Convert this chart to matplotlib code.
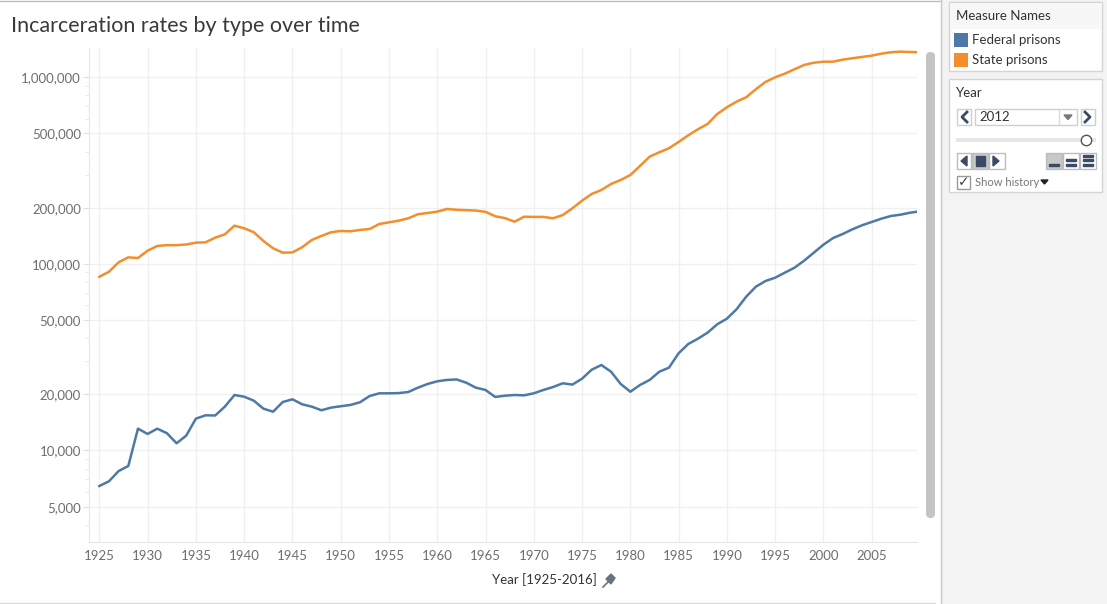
import numpy as np
import matplotlib.pyplot as plt
from matplotlib.patches import Rectangle, FancyBboxPatch, Polygon
from matplotlib.lines import Line2D
from matplotlib.ticker import FixedLocator, FuncFormatter, LogLocator, NullFormatter

plt.rcParams['font.family'] = ['Lato', 'DejaVu Sans']

# Data (prisoners under jurisdiction)
years = list(range(1925, 2011))
federal = [6450, 6840, 7760, 8260, 13090, 12260, 13090, 12380, 10930, 12020,
           14810, 15440, 15400, 17180, 19830, 19420, 18490, 16750, 16140, 18190,
           18810, 17690, 17180, 16430, 16970, 17260, 17540, 18130, 19590, 20250,
           20250, 20300, 20580, 21710, 22720, 23490, 23880, 24030, 23080, 21710,
           21100, 19360, 19660, 19830, 19750, 20250, 21100, 21890, 22910, 22550,
           24260, 27100, 28720, 26440, 22720, 20650, 22440, 23880, 26440, 27780,
           33190, 37220, 39720, 42790, 47460, 50850, 57110, 66710, 75450, 80960,
           84330, 89700, 95400, 104000, 114800, 126700, 137600, 144600, 153200, 161000,
           167700, 174700, 180600, 183600, 188100, 191400]
state = [85300, 90800, 102000, 108400, 107500, 117700, 124700, 126000, 126000, 127000,
         129900, 130500, 138200, 144000, 160200, 155200, 147700, 132600, 121200, 114800,
         115200, 122700, 134300, 141100, 147700, 150100, 149500, 152000, 153800, 163600,
         167000, 170400, 175500, 184500, 187400, 190500, 196900, 195000, 194000, 193000,
         190000, 180000, 176000, 168300, 179000, 178500, 178500, 175500, 182800, 198600,
         218200, 237000, 248900, 268000, 281600, 299500, 334700, 375400, 396300, 416500,
         450200, 488700, 526400, 561900, 635700, 690400, 740000, 781500, 862500, 944000,
         1000000, 1045000, 1104000, 1164000, 1197000, 1212000, 1212000, 1243000, 1265000, 1285000,
         1306000, 1338000, 1362000, 1372000, 1366000, 1362000]

series_names = ['Federal prisons', 'State prisons']
colors = ['#4e79a7', '#f28e2b']
y_ticks = [5000, 10000, 20000, 50000, 100000, 200000, 500000, 1000000]
x_ticks = list(range(1925, 2010, 5))

W, H = 1107, 604
fig = plt.figure(figsize=(W / 100, H / 100), dpi=100)


def fx(px):
    return px / W


def fy(py):
    return 1 - py / H


grid_c = '#f0f0f0'
text_c = '#6e6e6e'

ax = fig.add_axes([fx(89.3), fy(542), fx(916.7) - fx(89.3), fy(48) - fy(542)])
ax.plot(years, federal, color=colors[0], lw=1.8, solid_joinstyle='round')
ax.plot(years, state, color=colors[1], lw=1.8, solid_joinstyle='round')
ax.set_yscale('log')
ax.set_xlim(1923.96, 2009.66)
ax.set_ylim(3233, 1435000)
ax.yaxis.set_major_locator(FixedLocator(y_ticks))
ax.yaxis.set_major_formatter(FuncFormatter(lambda v, p: f'{int(v):,}'))
ax.yaxis.set_minor_locator(LogLocator(base=10, subs=np.arange(2, 10)))
ax.yaxis.set_minor_formatter(NullFormatter())
ax.set_xticks(x_ticks)
ax.grid(True, which='major', color=grid_c, lw=1)
ax.set_axisbelow(True)
for s in ['top', 'right']:
    ax.spines[s].set_visible(False)
for s in ['left', 'bottom']:
    ax.spines[s].set_color('#e6e6e6')
ax.tick_params(axis='both', which='major', colors='#e0e0e0', labelcolor=text_c,
               labelsize=9.5, length=4)
ax.tick_params(axis='y', which='minor', colors='#e6e6e6', length=3)
ax.tick_params(axis='x', which='major', length=0, pad=6)
ax.tick_params(axis='y', pad=2)

# title and axis label
fig.text(fx(11), fy(26), 'Incarceration rates by type over time', fontsize=15.5,
         color='#3a3a3a', va='center', ha='left')
fig.text(fx(597), fy(580), 'Year [1925-2016]', fontsize=9.5, color='#333333',
         va='center', ha='right')
# small pin icon
pin = '#6b7380'
fig.add_artist(Line2D([fx(603), fx(608)], [fy(587), fy(582)], color=pin, lw=1.2))
fig.add_artist(Polygon([[fx(606), fy(579)], [fx(611), fy(584)], [fx(615), fy(578)],
                        [fx(611), fy(574)]], closed=True, color=pin))

# frame lines / scrollbar
fig.add_artist(Line2D([0, fx(941)], [fy(0.5), fy(0.5)], color='#bdbdbd', lw=1))
fig.add_artist(Line2D([0, fx(935)], [fy(603), fy(603)], color='#d9d9d9', lw=1))
fig.add_artist(Rectangle((fx(942), 0), 1 - fx(942), 1, color='#f3f3f3', lw=0))
fig.add_artist(Line2D([fx(941.5), fx(941.5)], [0, 1], color='#c8c8c8', lw=1))
fig.add_artist(FancyBboxPatch((fx(926), fy(518)), fx(935) - fx(926), fy(52) - fy(518),
                              boxstyle='round,pad=0,rounding_size=0.004',
                              fc='#c4c4c4', ec='none', mutation_aspect=1.8))

# legend box
fig.add_artist(Rectangle((fx(949), fy(71)), fx(1102) - fx(949), fy(2) - fy(71),
                         fc='white', ec='#d4d4d4', lw=1))
fig.add_artist(Rectangle((fx(950), fy(29)), fx(1101) - fx(950), fy(3) - fy(29),
                         fc='#f7f7f7', ec='none'))
fig.text(fx(956), fy(16), 'Measure Names', fontsize=9.5, color='#333333', va='center')
for i, (name, c) in enumerate(zip(series_names, colors)):
    yc = 40 + i * 20
    fig.add_artist(Rectangle((fx(954), fy(yc + 7)), fx(14), fy(0) - fy(14), fc=c, ec='none'))
    fig.text(fx(972), fy(yc), name, fontsize=9.5, color='#333333', va='center')

# year control box
fig.add_artist(Rectangle((fx(949), fy(192)), fx(1102) - fx(949), fy(79) - fy(192),
                         fc='white', ec='#d4d4d4', lw=1))
fig.text(fx(956), fy(93), 'Year', fontsize=9.5, color='#333333', va='center')
for x0, x1 in [(957, 971), (975, 1077), (1081, 1095)]:
    fig.add_artist(Rectangle((fx(x0), fy(125)), fx(x1) - fx(x0), fy(109) - fy(125),
                             fc='white', ec='#cfcfcf', lw=1))
fig.add_artist(Line2D([fx(1059), fx(1059)], [fy(110), fy(124)], color='#dcdcdc', lw=1))
pb = '#3b4a66'
fig.add_artist(Line2D([fx(967), fx(962), fx(967)], [fy(112), fy(117), fy(122)], color=pb, lw=2))
fig.add_artist(Line2D([fx(1085), fx(1090), fx(1085)], [fy(112), fy(117), fy(122)], color=pb, lw=2))
fig.text(fx(979), fy(117), '2012', fontsize=9.5, color='#333333', va='center')
fig.add_artist(Polygon([[fx(1064), fy(115)], [fx(1072), fy(115)], [fx(1068), fy(119.5)]],
                       closed=True, color='#777777'))
fig.add_artist(Rectangle((fx(956), fy(142)), fx(1096) - fx(956), fy(138) - fy(142),
                         fc='#e6e6e6', ec='none'))
fig.add_artist(Line2D([fx(1086)], [fy(140)], marker='o', markersize=7.5, mfc='white',
                      mec='#555555', mew=1))

# playback buttons
for x0, x1, fc in [(957, 971, 'white'), (972, 988, '#c8c8c8'), (989, 1005, 'white'),
                   (1046, 1062, '#c8c8c8'), (1063, 1079, 'white'), (1080, 1096, 'white')]:
    fig.add_artist(Rectangle((fx(x0), fy(169)), fx(x1) - fx(x0), fy(153) - fy(169),
                             fc=fc, ec='#bdbdbd', lw=1))
fig.add_artist(Polygon([[fx(967), fy(156)], [fx(967), fy(166)], [fx(961), fy(161)]],
                       closed=True, color=pb))
fig.add_artist(Rectangle((fx(975.5), fy(166)), fx(9), fy(0) - fy(10), color=pb))
fig.add_artist(Polygon([[fx(993), fy(156)], [fx(993), fy(166)], [fx(999), fy(161)]],
                       closed=True, color=pb))
bars = [(1049, [165]), (1066, [160, 165]), (1083, [156, 160.5, 165])]
for x0, ys in bars:
    for yy in ys:
        fig.add_artist(Rectangle((fx(x0), fy(yy + 1)), fx(10), fy(0) - fy(2), color=pb))

# show history
fig.add_artist(Rectangle((fx(957), fy(189)), fx(13), fy(0) - fy(13), fc='white',
                         ec='#9a9a9a', lw=1))
fig.text(fx(963.5), fy(182), '\u2713', fontsize=10, color='#444444', va='center',
         ha='center', family='DejaVu Sans')
fig.text(fx(975), fy(182), 'Show history', fontsize=8, color='#777777', va='center')
fig.add_artist(Polygon([[fx(1041), fy(180)], [fx(1048), fy(180)], [fx(1044.5), fy(184)]],
                       closed=True, color='#222222'))

fig.savefig('out.png', dpi=100)
